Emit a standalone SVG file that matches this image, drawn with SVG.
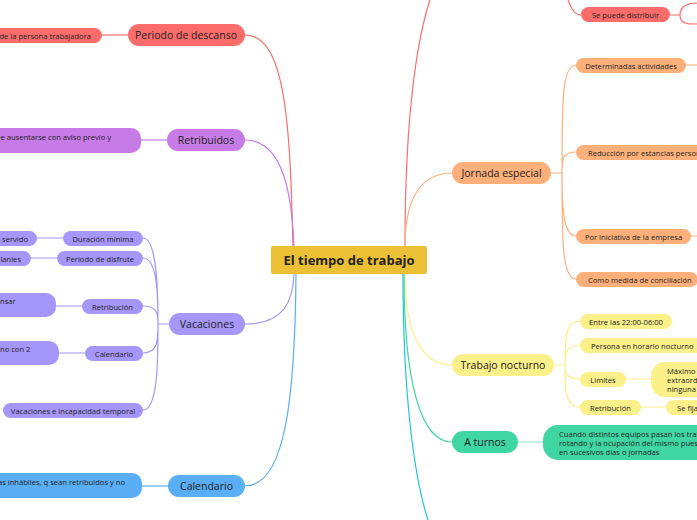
<svg xmlns="http://www.w3.org/2000/svg" width="697" height="520" viewBox="0 0 697 520">
<style>
text{font-family:"Open Sans","Noto Sans",sans-serif;fill:#222}
.m{font-size:10.5px;text-anchor:middle;dominant-baseline:central}
.s{font-size:7.6px;text-anchor:middle;dominant-baseline:central}
.l{font-size:7.6px;dominant-baseline:central}
.c{fill:none;stroke-width:1.2}
.red{fill:#fc6c6a}.pur{fill:#c67be6}.vio{fill:#a596fa}.blu{fill:#5aaef6}.org{fill:#ffb07a}.yel{fill:#fbf08a}.grn{fill:#40d6a3}
</style>
<rect width="697" height="520" fill="#fff"/>
<g id="connectors">
<g stroke="#fc6c6a" class="c"><path d="M245 35C285 35 290 120 293 246"/><path d="M102 35H128"/><path d="M405 246C405 100 420 30 430 0"/><path d="M568 0C572 10 575 15 581 15"/><path d="M670 15H680C680 5 690 3 697 3M680 15C680 25 690 24 697 24"/></g>
<g stroke="#c67be6" class="c"><path d="M245 140C285 140 292 200 294 246"/><path d="M141 140H167"/></g>
<g stroke="#a596fa" class="c"><path d="M245 324C285 324 293 300 294 274"/><path d="M143 238C158 238 158 300 158 324M143 258C158 258 158 300 158 324M143 306C158 306 158 315 158 324M143 353C158 353 158 340 158 324M143 410C158 410 158 360 158 324M158 324H169"/><path d="M37 238H63M31 258H57M56 306H82M59 353H85"/></g>
<g stroke="#5aaef6" class="c"><path d="M245 486C285 486 295 400 296 274"/><path d="M142 486H168"/></g>
<g stroke="#ffb07a" class="c"><path d="M405 246C405 200 420 173 452 173"/><path d="M551 173H562M576 65C562 65 562 100 562 173M576 152C562 152 562 160 562 173M576 236C562 236 562 200 562 173M576 279C562 279 562 240 562 173"/><path d="M686 65H697M691 236H697"/></g>
<g stroke="#fbf08a" class="c"><path d="M405 274C405 330 420 365 452 365"/><path d="M554 365H565M580 321C565 321 565 340 565 365M580 345C565 345 565 355 565 365M580 379C565 379 565 372 565 365M580 407C565 407 565 390 565 365"/><path d="M626 379H651M641 407H666"/></g>
<g stroke="#40d6a3" class="c"><path d="M404 274C404 380 420 442 452 442"/><path stroke="#9ee8cd" d="M518 442H543"/></g>
<g stroke="#1ec8d8" class="c"><path d="M403 274C403 400 415 480 428 520"/></g>
</g>
<g id="central"><rect x="271" y="246" width="156" height="28" rx="2" fill="#ecc035"/><text x="349" y="260" class="m" style="font-size:13px;font-weight:bold">El tiempo de trabajo</text></g>
<g id="descanso"><rect x="128" y="24" width="117" height="22" rx="11" class="red"/><text x="186" y="35" class="m">Periodo de descanso</text></g>
<g id="descanso-c"><rect x="-10" y="28" width="112" height="15" rx="7.5" class="red"/><text x="91" y="35.5" class="l" text-anchor="end" style="text-anchor:end">o de la persona trabajadora</text></g>
<g id="retribuidos"><rect x="167" y="129" width="78" height="22" rx="11" class="pur"/><text x="206" y="140" class="m">Retribuidos</text></g>
<g id="retribuidos-c"><rect x="-10" y="128" width="151" height="25" rx="10" class="pur"/><text x="111" y="137" class="l" style="text-anchor:end">ede ausentarse con aviso previo y</text></g>
<g id="vacaciones"><rect x="169" y="313" width="76" height="22" rx="11" class="vio"/><text x="207" y="324" class="m">Vacaciones</text></g>
<g id="duracion"><rect x="63" y="231" width="80" height="15" rx="7.5" class="vio"/><text x="103" y="238.5" class="s">Duración mínima</text></g>
<g id="duracion-c"><rect x="-10" y="231" width="47" height="15" rx="7.5" class="vio"/><text x="28" y="238.5" class="l" style="text-anchor:end">servido</text></g>
<g id="disfrute"><rect x="57" y="251" width="86" height="15" rx="7.5" class="vio"/><text x="100" y="258.5" class="s">Periodo de disfrute</text></g>
<g id="disfrute-c"><rect x="-10" y="251" width="41" height="15" rx="7.5" class="vio"/><text x="21" y="258.5" class="l" style="text-anchor:end">lanles</text></g>
<g id="retribucion-v"><rect x="82" y="299" width="61" height="15" rx="7.5" class="vio"/><text x="112.5" y="306.5" class="s">Retribución</text></g>
<g id="retribucion-v-c"><rect x="-10" y="293" width="66" height="24" rx="10" class="vio"/><text x="0" y="301" class="l">nsar</text></g>
<g id="calendario-v"><rect x="85" y="346" width="58" height="15" rx="7.5" class="vio"/><text x="114" y="353.5" class="s">Calendario</text></g>
<g id="calendario-v-c"><rect x="-10" y="341" width="69" height="24" rx="10" class="vio"/><text x="0" y="349" class="l">no con 2</text></g>
<g id="incapacidad"><rect x="3" y="403" width="140" height="15" rx="7.5" class="vio"/><text x="73" y="410.5" class="s">Vacaciones e incapacidad temporal</text></g>
<g id="calendario"><rect x="168" y="475" width="77" height="22" rx="11" class="blu"/><text x="206.5" y="486" class="m">Calendario</text></g>
<g id="calendario-c"><rect x="-10" y="473" width="152" height="25" rx="10" class="blu"/><text x="125" y="482" class="l" style="text-anchor:end">ías inhábiles, q sean retribuidos y no</text></g>
<g id="distribuir"><rect x="581" y="7" width="89" height="15" rx="7.5" class="red"/><text x="625.5" y="14.5" class="s">Se puede distribuir</text></g>
<g id="jornada"><rect x="452" y="162" width="99" height="22" rx="11" class="org"/><text x="501.5" y="173" class="m">Jornada especial</text></g>
<g id="actividades"><rect x="576" y="58" width="110" height="15" rx="7.5" class="org"/><text x="631" y="65.5" class="s">Determinadas actividades</text></g>
<g id="reduccion"><rect x="576" y="145" width="140" height="15" rx="7.5" class="org"/><text x="588" y="152.5" class="l">Reducción por estancias persona</text></g>
<g id="iniciativa"><rect x="576" y="229" width="115" height="15" rx="7.5" class="org"/><text x="633.5" y="236.5" class="s">Por iniciativa de la empresa</text></g>
<g id="conciliacion"><rect x="576" y="272" width="122" height="15" rx="7.5" class="org"/><text x="588" y="279.5" class="l">Como medida de conciliación</text></g>
<g id="nocturno"><rect x="452" y="354" width="102" height="22" rx="11" class="yel"/><text x="503" y="365" class="m">Trabajo nocturno</text></g>
<g id="entre"><rect x="580" y="314" width="92" height="15" rx="7.5" class="yel"/><text x="626" y="321.5" class="s">Entre las 22:00-06:00</text></g>
<g id="persona"><rect x="580" y="338" width="130" height="15" rx="7.5" class="yel"/><text x="591" y="345.5" class="l">Persona en horario nocturno</text></g>
<g id="limites"><rect x="580" y="372" width="46" height="15" rx="7.5" class="yel"/><text x="603" y="379.5" class="s">Limites</text></g>
<g id="limites-c"><rect x="651" y="362" width="60" height="35" rx="14" class="yel"/><text class="l" x="667" y="371">Máximo 8</text><text class="l" x="667" y="380">extraordi</text><text class="l" x="667" y="389">ninguna</text></g>
<g id="retribucion-n"><rect x="580" y="400" width="61" height="15" rx="7.5" class="yel"/><text x="610.5" y="407.5" class="s">Retribución</text></g>
<g id="retribucion-n-c"><rect x="666" y="400" width="40" height="15" rx="7.5" class="yel"/><text x="677" y="407.5" class="l">Se fija</text></g>
<g id="turnos"><rect x="452" y="431" width="66" height="22" rx="11" class="grn"/><text x="485" y="442" class="m">A turnos</text></g>
<g id="turnos-c"><rect x="543" y="425" width="170" height="35" rx="15" class="grn"/><text class="l" x="559" y="434">Cuando distintos equipos pasan los trabajadores</text><text class="l" x="559" y="443">rotando y la ocupación del mismo puesto</text><text class="l" x="559" y="452">en sucesivos días o jornadas</text></g>
</svg>
